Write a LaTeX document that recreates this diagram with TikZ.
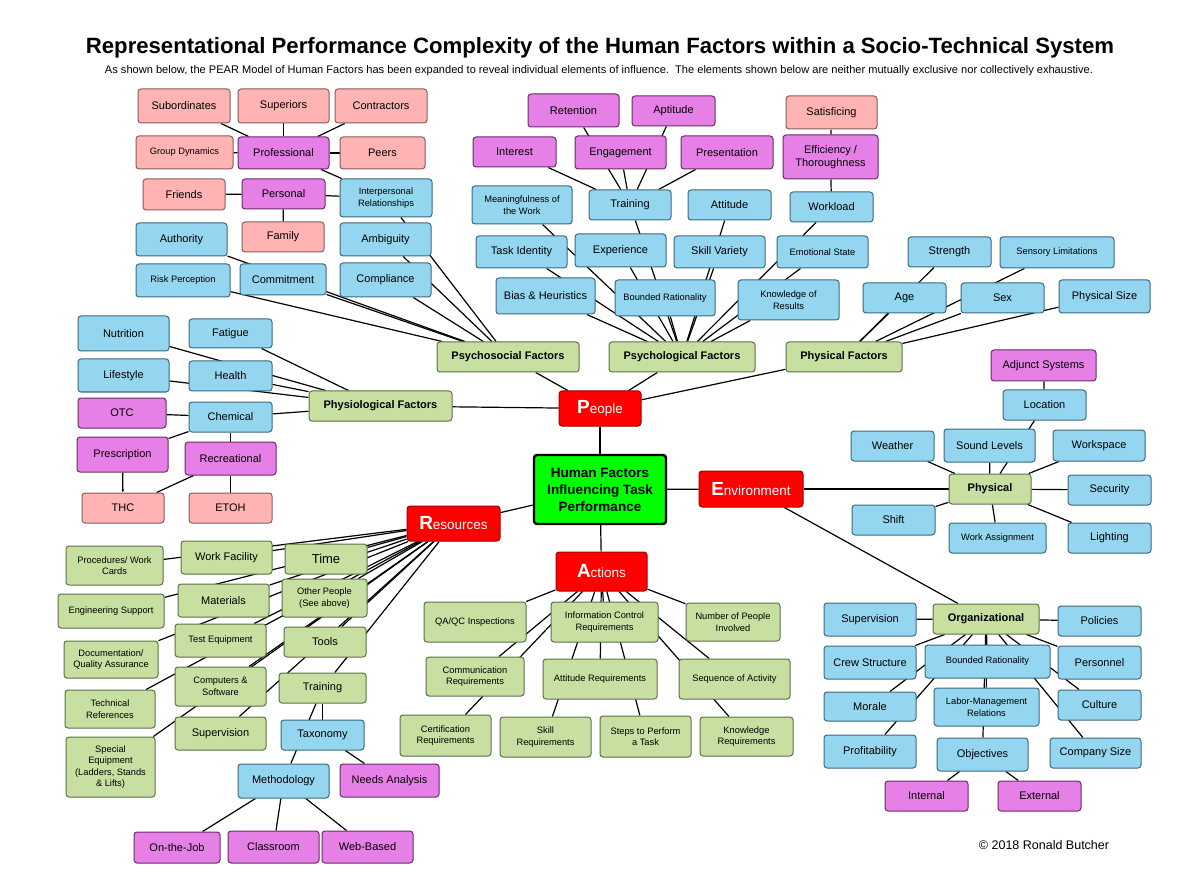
\documentclass[tikz,border=0pt]{standalone}
\usepackage{fontspec}
\usepackage{graphicx}
\setmainfont{Liberation Sans}
\usetikzlibrary{arrows.meta}
\pgfdeclarelayer{paper}
\pgfdeclarelayer{background}
\pgfsetlayers{paper,background,main}
\definecolor{pkF}{HTML}{FFB3B3}\definecolor{pkD}{HTML}{8A5C5C}
\definecolor{mgF}{HTML}{E680E6}\definecolor{mgD}{HTML}{6A2C6A}
\definecolor{blF}{HTML}{94D5F0}\definecolor{blD}{HTML}{3D6A7E}
\definecolor{grF}{HTML}{C7DFA1}\definecolor{grD}{HTML}{5E7147}
\definecolor{rdF}{HTML}{FF0000}\definecolor{rdD}{HTML}{A00000}
\definecolor{hubF}{HTML}{00FF00}
\tikzset{
  box/.style={draw, rounded corners=3pt, line width=1pt, inner sep=0pt, align=center,
    font=\fontsize{11}{12.5}\selectfont},
  pk/.style={box, fill=pkF, draw=pkD},
  mg/.style={box, fill=mgF, draw=mgD},
  bl/.style={box, fill=blF, draw=blD},
  gr/.style={box, fill=grF, draw=grD},
  rd/.style={box, fill=rdF, draw=rdD, text=white},
  hubbox/.style={box, fill=hubF, draw=black, line width=2.4pt,
    font=\fontsize{13.5}{17}\selectfont\bfseries},
  sm/.style={font=\fontsize{9.3}{11.5}\selectfont},
  bd/.style={font=\fontsize{11}{13}\selectfont\bfseries},
  link/.style={line width=1.2pt, black},
}
\newcommand\bx[7]{\node[#2, minimum width={(#5-#3)*1pt}, minimum height={(#6-#4)*1pt}]
  (#1) at ({(#3+#5)/2},{(#4+#6)/2}) {#7};}
\newcommand\redlabel[2]{{\fontsize{19}{19}\selectfont\bfseries #1}{\fontsize{13.5}{14}\selectfont #2}}
\begin{document}
\begin{tikzpicture}[x=1pt,y=-1pt]
\begin{pgfonlayer}{paper}
\fill[white] (0,0) rectangle (1200,893);
\end{pgfonlayer}
\useasboundingbox (0,0) rectangle (1200,893);
\node (title) at (600,48) {\resizebox{1028pt}{!}{\fontsize{22}{24}\selectfont\bfseries Representational Performance Complexity of the Human Factors within a Socio-Technical System}};
\node (subtitle) at (599,71) {\resizebox{988pt}{!}{\fontsize{11}{12}\selectfont As shown below, the PEAR Model of Human Factors has been expanded to reveal individual elements of influence.\ \ The elements shown below are neither mutually exclusive nor collectively exhaustive.}};
% top-left cluster
\bx{sub}{pk}{138}{89}{230}{123}{Subordinates}
\bx{sup}{pk}{238}{89}{329}{123}{Superiors}
\bx{con}{pk}{335}{89}{427}{123}{Contractors}
\bx{grp}{pk,sm}{136}{136}{233}{169}{Group Dynamics}
\bx{prof}{mg}{238}{137}{329}{169}{Professional}
\bx{peers}{pk}{340}{137}{425}{169}{Peers}
\bx{friends}{pk}{143}{179}{225}{210}{Friends}
\bx{pers}{mg}{242}{179}{325}{209}{Personal}
\bx{inter}{bl,sm}{340}{179}{432}{217}{Interpersonal\\Relationships}
\bx{family}{pk}{242}{222}{324}{252}{Family}
\bx{auth}{bl}{136}{223}{227}{256}{Authority}
\bx{ambig}{bl}{340}{223}{431}{256}{Ambiguity}
\bx{risk}{bl,sm}{136}{264}{230}{297}{Risk Perception}
\bx{commit}{bl}{240}{264}{326}{295}{Commitment}
\bx{compl}{bl}{340}{263}{431}{297}{Compliance}
% psychological cluster
\bx{reten}{mg}{528}{94}{619}{127}{Retention}
\bx{apt}{mg}{632}{96}{715}{126}{Aptitude}
\bx{interest}{mg}{473}{137}{556}{167}{Interest}
\bx{engage}{mg}{575}{136}{666}{169}{Engagement}
\bx{present}{mg}{681}{136}{773}{169}{Presentation}
\bx{satis}{pk}{786}{96}{877}{129}{Satisficing}
\bx{effic}{mg}{783}{135}{878}{179}{Efficiency /\\Thoroughness}
\bx{workload}{bl}{790}{192}{873}{222}{Workload}
\bx{meaning}{bl,sm}{472}{186}{572}{224}{Meaningfulness of\\the Work}
\bx{trainA}{bl}{589}{190}{671}{220}{Training}
\bx{attitude}{bl}{688}{190}{771}{220}{Attitude}
\bx{taskid}{bl}{476}{236}{567}{268}{Task Identity}
\bx{exper}{bl}{575}{234}{666}{267}{Experience}
\bx{skillvar}{bl}{674}{236}{765}{268}{Skill Variety}
\bx{emot}{bl,sm}{777}{236}{868}{268}{Emotional State}
\bx{bias}{bl}{496}{278}{595}{314}{Bias \& Heuristics}
\bx{boundA}{bl,sm}{615}{280}{715}{316}{Bounded Rationality}
\bx{knowres}{bl,sm}{738}{280}{839}{320}{Knowledge of\\Results}
\bx{psysoc}{gr,bd}{437}{342}{579}{372}{Psychosocial Factors}
\bx{psylog}{gr,bd}{609}{342}{755}{372}{Psychological Factors}
\bx{physf}{gr,bd}{786}{342}{902}{372}{Physical Factors}
% physical factors
\bx{strength}{bl}{908}{237}{991}{267}{Strength}
\bx{sensory}{bl,sm}{1000}{237}{1114}{268}{Sensory Limitations}
\bx{age}{bl}{863}{283}{946}{313}{Age}
\bx{sex}{bl}{961}{283}{1044}{313}{Sex}
\bx{physsize}{bl}{1059}{280}{1150}{313}{Physical Size}
% physiological
\bx{nutrition}{bl}{78}{316}{169}{351}{Nutrition}
\bx{fatigue}{bl}{189}{319}{272}{348}{Fatigue}
\bx{lifestyle}{bl}{78}{359}{169}{392}{Lifestyle}
\bx{health}{bl}{189}{361}{272}{391}{Health}
\bx{otc}{mg}{78}{398}{166}{428}{OTC}
\bx{chem}{bl}{189}{402}{272}{432}{Chemical}
\bx{presc}{mg}{77}{437}{168}{472}{Prescription}
\bx{recre}{mg}{185}{442}{276}{475}{Recreational}
\bx{thc}{pk}{82}{493}{164}{523}{THC}
\bx{etoh}{pk}{189}{493}{272}{523}{ETOH}
\bx{physio}{gr,bd}{309}{391}{452}{421}{Physiological Factors}
% centre
\bx{people}{rd}{559}{391}{641}{426}{\redlabel{P}{eople}}
\bx{hub}{hubbox}{534}{455}{666}{524}{Human Factors\\Influencing Task\\Performance}
\bx{env}{rd}{699}{471}{803}{507}{\redlabel{E}{nvironment}}
\bx{res}{rd}{407}{506}{500}{541}{\redlabel{R}{esources}}
\bx{act}{rd}{556}{552}{647}{591}{\redlabel{A}{ctions}}
% environment physical
\bx{adjunct}{mg}{991}{350}{1096}{381}{Adjunct Systems}
\bx{location}{bl}{1003}{390}{1086}{420}{Location}
\bx{weather}{bl}{851}{431}{934}{461}{Weather}
\bx{sound}{bl}{944}{429}{1035}{462}{Sound Levels}
\bx{workspace}{bl}{1053}{430}{1145}{461}{Workspace}
\bx{physical}{gr,bd}{949}{474}{1031}{504}{Physical}
\bx{security}{bl}{1068}{475}{1151}{505}{Security}
\bx{shift}{bl}{852}{505}{935}{535}{Shift}
\bx{workassign}{bl,sm}{949}{523}{1046}{553}{Work Assignment}
\bx{lighting}{bl}{1068}{523}{1151}{553}{Lighting}
% organizational
\bx{supvB}{bl}{824}{603}{916}{636}{Supervision}
\bx{org}{gr,bd}{933}{604}{1039}{634}{Organizational}
\bx{policies}{bl}{1058}{606}{1141}{636}{Policies}
\bx{crew}{bl}{824}{646}{916}{679}{Crew Structure}
\bx{boundB}{bl,sm}{925}{645}{1050}{678}{Bounded Rationality}
\bx{personnel}{bl}{1058}{646}{1141}{679}{Personnel}
\bx{morale}{bl}{824}{692}{916}{721}{Morale}
\bx{labor}{bl,sm}{934}{688}{1039}{726}{Labor-Management\\Relations}
\bx{culture}{bl}{1058}{690}{1141}{720}{Culture}
\bx{profit}{bl}{824}{735}{916}{768}{Profitability}
\bx{objectives}{bl}{937}{738}{1028}{771}{Objectives}
\bx{compsize}{bl}{1050}{738}{1141}{768}{Company Size}
\bx{internal}{mg}{885}{781}{968}{811}{Internal}
\bx{external}{mg}{998}{781}{1081}{811}{External}
% actions
\bx{qaqc}{gr,sm}{424}{602}{526}{642}{QA/QC Inspections}
\bx{infoctl}{gr,sm}{551}{602}{658}{642}{Information Control\\Requirements}
\bx{numpeople}{gr,sm}{686}{603}{780}{641}{Number of People\\Involved}
\bx{comm}{gr,sm}{426}{657}{524}{696}{Communication\\Requirements}
\bx{attreq}{gr,sm}{543}{659}{657}{699}{Attitude Requirements}
\bx{seq}{gr,sm}{679}{659}{790}{699}{Sequence of Activity}
\bx{cert}{gr,sm}{400}{715}{491}{756}{Certification\\Requirements}
\bx{skillreq}{gr,sm}{500}{717}{591}{757}{Skill\\Requirements}
\bx{steps}{gr,sm}{600}{716}{691}{757}{Steps to Perform\\a Task}
\bx{knowreq}{gr,sm}{700}{717}{793}{756}{Knowledge\\Requirements}
% resources
\bx{proc}{gr,sm}{66}{546}{163}{585}{Procedures/ Work\\Cards}
\bx{workfac}{gr}{181}{541}{272}{574}{Work Facility}
\bx{time}{gr,font=\fontsize{13}{14}\selectfont}{285}{544}{367}{574}{Time}
\bx{eng}{gr,sm}{58}{594}{164}{628}{Engineering Support}
\bx{materials}{gr}{178}{584}{269}{617}{Materials}
\bx{otherpeople}{gr,sm}{282}{579}{367}{617}{Other People\\(See above)}
\bx{testeq}{gr,sm}{175}{624}{266}{657}{Test Equipment}
\bx{tools}{gr}{284}{627}{366}{657}{Tools}
\bx{doc}{gr,sm}{64}{641}{158}{678}{Documentation/\\Quality Assurance}
\bx{computers}{gr,sm}{175}{667}{266}{706}{Computers \&\\Software}
\bx{trainB}{gr}{279}{673}{366}{703}{Training}
\bx{techref}{gr,sm}{65}{690}{155}{728}{Technical\\References}
\bx{supvA}{gr}{175}{717}{266}{750}{Supervision}
\bx{taxonomy}{bl}{281}{720}{364}{750}{Taxonomy}
\bx{special}{gr,sm}{66}{737}{155}{797}{Special\\Equipment\\(Ladders, Stands\\\& Lifts)}
\bx{methodology}{bl}{238}{764}{329}{798}{Methodology}
\bx{needs}{mg}{340}{764}{439}{797}{Needs Analysis}
\bx{onjob}{mg}{134}{832}{220}{863}{On-the-Job}
\bx{classroom}{mg}{228}{831}{319}{863}{Classroom}
\bx{webbased}{mg}{322}{831}{413}{863}{Web-Based}
\node[font=\fontsize{12.5}{14}\selectfont] (copy) at (1044,845) {\textcopyright\ 2018 Ronald Butcher};
% connectors
\begin{pgfonlayer}{background}
\foreach \a/\b in {sub/prof, sup/prof, con/prof, grp/prof, peers/prof, inter/prof, friends/pers, family/pers, inter/pers,
  risk/psysoc, auth/psysoc, commit/psysoc, inter/psysoc, ambig/psysoc, compl/psysoc,
  reten/trainA, apt/trainA, engage/trainA, interest/trainA, present/trainA, satis/effic, effic/workload,
  trainA/psylog, exper/psylog, attitude/psylog, skillvar/psylog, meaning/psylog, taskid/psylog, bias/psylog, boundA/psylog, workload/psylog, emot/psylog, knowres/psylog,
  strength/physf, age/physf, sensory/physf, sex/physf, physsize/physf,
  psysoc/people, psylog/people, physf/people, physio/people,
  nutrition/physio, fatigue/physio, lifestyle/physio, health/physio, chem/physio,
  otc/chem, presc/chem, recre/chem, recre/thc, recre/etoh,
  people/hub, env/hub, res/hub, act/hub,
  physical/env, org/env,
  adjunct/location, location/physical, sound/physical, weather/physical, workspace/physical, security/physical, shift/physical, workassign/physical, lighting/physical,
  supvB/org, policies/org, crew/org, boundB/org, personnel/org, morale/org, labor/org, culture/org, profit/org, objectives/org, compsize/org, internal/objectives, external/objectives,
  qaqc/act, infoctl/act, numpeople/act, comm/act, cert/act, attreq/act, skillreq/act, steps/act, seq/act, knowreq/act,
  proc/res, workfac/res, time/res, eng/res, materials/res, otherpeople/res, testeq/res, tools/res, doc/res, computers/res, trainB/res, techref/res, supvA/res, special/res,
  taxonomy/trainB, methodology/trainB, needs/taxonomy, onjob/methodology, classroom/methodology, webbased/methodology}
  {\draw[link] (\a) -- (\b);}
\draw[link, -{Latex[length=3pt,width=3pt]}] (presc) -- (thc);
\end{pgfonlayer}
\end{tikzpicture}
\end{document}
